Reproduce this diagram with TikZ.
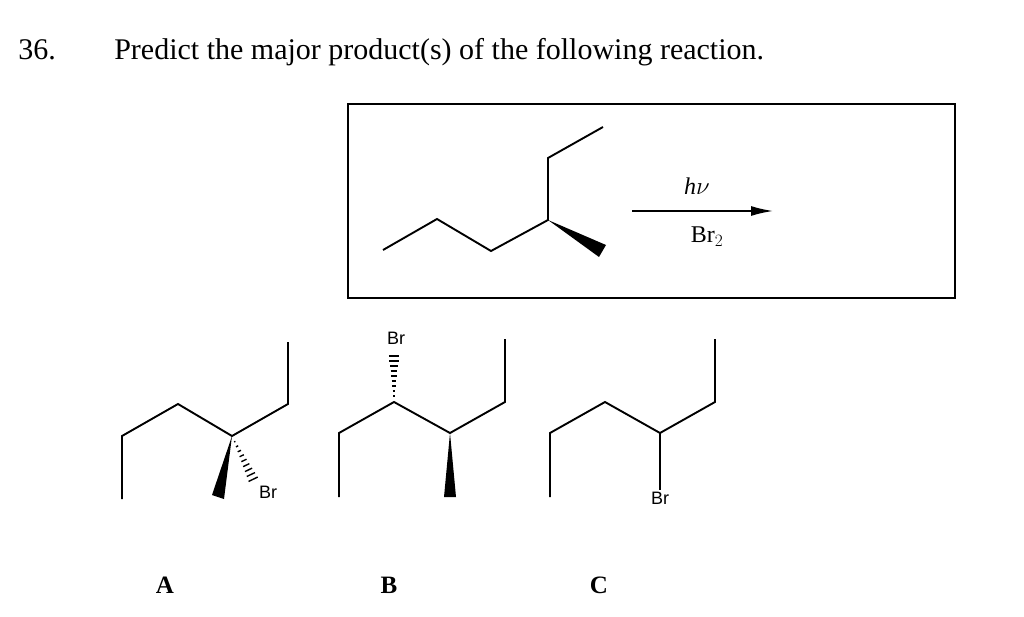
\documentclass[tikz,border=0pt]{standalone}
\usepackage{fontspec}
\setmainfont{Liberation Serif}
\setsansfont{Liberation Sans}
\usetikzlibrary{positioning,arrows.meta,calc}
\tikzset{
chem/.style={
    x=1pt,
    y=-1pt,
    line width=1.9pt,
    line join=miter
},
wedge/.style={
    fill=black
},
atom/.style={
    font=\sffamily\fontsize{18}{18}\selectfont,
    inner sep=1pt
},
prodlabel/.style={
    font=\bfseries\fontsize{25}{25}\selectfont
},
rxn/.style={
    -{Latex[length=22pt,width=10pt]},
    line width=1.6pt
}}

\begin{document}
\begin{tikzpicture}[chem]
\useasboundingbox (0,0) rectangle (1024,617);
\node[anchor=base west, font=\fontsize{30}{30}\selectfont] (num) at (14,60) {36.};
\node[anchor=base west, font=\fontsize{30}{30}\selectfont] (q) at (110,60) {Predict the major product(s) of the following reaction.};

% reaction box
\draw[line width=1.8pt] (348,104) rectangle (955,298);
\coordinate (s1) at (383,250);
\coordinate (s2) at (437,219);
\coordinate (s3) at (491,251);
\coordinate (s4) at (548,220);
\coordinate (s5) at (548,158);
\coordinate (s6) at (603,127);
\draw (s1) -- (s2) -- (s3) -- (s4) -- (s5) -- (s6);
\fill[wedge] (s4) -- (606,245) -- (599,257) -- cycle;
\coordinate (r1) at (632,211);
\coordinate (r2) at (773,211);
\draw[rxn] (r1) -- (r2);
\node[font=\itshape\fontsize{24}{24}\selectfont] (hv) at (697,186) {h$\nu$};
\node[font=\fontsize{24}{24}\selectfont] (br2) at (707,237) {Br$_2$};

% product A
\coordinate (a1) at (122,499);
\coordinate (a2) at (122,436);
\coordinate (a3) at (178,404);
\coordinate (a4) at (232,436);
\coordinate (a5) at (288,404);
\coordinate (a6) at (288,342);
\coordinate (ah) at (255,483);
\draw (a1) -- (a2) -- (a3) -- (a4) -- (a5) -- (a6);
\fill[wedge] (a4) -- (212,495) -- (224,499) -- cycle;
\node[atom] (abr) at (268,492) {Br};
\foreach \t in {0.12,0.22,...,0.95}
    \draw[line width=1.4pt] ($(a4)!\t!(ah)+(-\t*5,\t*2.4)$) -- ($(a4)!\t!(ah)+(\t*5,-\t*2.4)$);
\node[prodlabel] (lA) at (165,585) {A};

% product B
\coordinate (b1) at (339,497);
\coordinate (b2) at (339,433);
\coordinate (b3) at (394,402);
\coordinate (b4) at (450,433);
\coordinate (b5) at (505,402);
\coordinate (b6) at (505,339);
\coordinate (bh) at (394,352);
\draw (b1) -- (b2) -- (b3) -- (b4) -- (b5) -- (b6);
\fill[wedge] (b4) -- (444,497) -- (456,497) -- cycle;
\node[atom] (bbr) at (396,338) {Br};
\foreach \t in {0.12,0.22,...,0.95}
    \draw[line width=1.4pt] ($(b3)!\t!(bh)+(-\t*5.5,0)$) -- ($(b3)!\t!(bh)+(\t*5.5,0)$);
\node[prodlabel] (lB) at (389,585) {B};

% product C
\coordinate (c1) at (550,497);
\coordinate (c2) at (550,433);
\coordinate (c3) at (605,402);
\coordinate (c4) at (660,433);
\coordinate (c5) at (715,402);
\coordinate (c6) at (715,339);
\draw (c1) -- (c2) -- (c3) -- (c4) -- (c5) -- (c6);
\node[atom] (cbr) at (660,498) {Br};
\draw (c4) -- (cbr);
\node[prodlabel] (lC) at (599,585) {C};
\end{tikzpicture}
\end{document}
